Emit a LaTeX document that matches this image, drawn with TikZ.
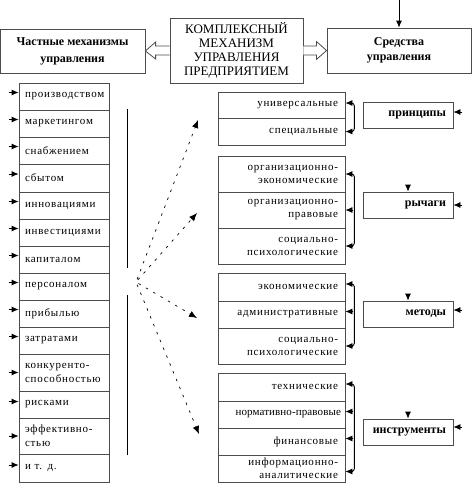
\documentclass[tikz,border=0pt]{standalone}
\usepackage{fontspec}
\setmainfont{Liberation Serif}
\newfontfamily\listfam{Liberation Serif}[LetterSpace=7]
\newfontfamily\listtight{Liberation Serif}[LetterSpace=1]
\usetikzlibrary{arrows.meta}
\begin{document}
\begin{tikzpicture}[x=1pt,y=-1pt,
  frame/.style={draw=black!70, line width=0.8pt, inner ysep=0pt},
  lrow/.style={frame, minimum width=90pt, inner xsep=6pt, text width=78pt, align=left, font=\listfam\fontsize{11}{14}\selectfont},
  rrow/.style={frame, minimum width=127pt, inner xsep=7pt, text width=113pt, align=right, font=\listfam\fontsize{11}{13}\selectfont},
  obox/.style={frame, minimum width=90pt, minimum height=26pt, inner xsep=7pt, text width=76pt, align=right, font=\bfseries\fontsize{12}{14}\selectfont},
  tip/.style={line width=0.8pt, -{Latex[length=7pt,width=6pt]}},
  brk/.style={line width=0.9pt, rounded corners=3pt},
  dotarrow/.style={line width=0.7pt, dash pattern=on 2.5pt off 6pt, -{Latex[length=8pt,width=6.5pt]}},
  blockarrow/.style={draw=black!70, line width=0.8pt, fill=white}
]
\useasboundingbox[fill=white] (0,0) rectangle (474,493);

% header boxes
\node[frame, minimum width=133pt, minimum height=65pt, align=center, font=\fontsize{13}{14}\selectfont] (cb) at (236.5,50.5) {КОМПЛЕКСНЫЙ\\МЕХАНИЗМ\\УПРАВЛЕНИЯ\\ПРЕДПРИЯТИЕМ};
\node[frame, minimum width=145pt, minimum height=44pt, align=center, font=\bfseries\fontsize{12}{17}\selectfont] (pm) at (72.5,51) {Частные механизмы\\управления};
\node[frame, minimum width=144pt, minimum height=45pt, align=center, font=\bfseries\fontsize{12}{15}\selectfont] (sr) at (399,50.5) {Средства\\управления};

% block arrows
\draw[blockarrow] ([yshift=4.5pt]cb.west) -- ([yshift=4.5pt,xshift=-14pt]cb.west) -- ([yshift=8.5pt,xshift=-14pt]cb.west) -- (pm.east) -- ([yshift=-8.5pt,xshift=-14pt]cb.west) -- ([yshift=-4.5pt,xshift=-14pt]cb.west) -- ([yshift=-4.5pt]cb.west);
\draw[blockarrow] ([yshift=4.5pt]cb.east) -- ([yshift=4.5pt,xshift=13pt]cb.east) -- ([yshift=9pt,xshift=13pt]cb.east) -- (sr.west) -- ([yshift=-9pt,xshift=13pt]cb.east) -- ([yshift=-4.5pt,xshift=13pt]cb.east) -- ([yshift=-4.5pt]cb.east);

\coordinate (topin) at (399,0);
\draw[line width=0.8pt, -{Latex[length=7pt,width=6pt]}] (topin) -- (sr.north);

% left list
\node[lrow, minimum height=27pt] (r1) at (64,96.5) {производством};
\node[lrow, minimum height=27pt] (r2) at (64,123.5) {маркетингом};
\node[lrow, minimum height=27pt] (r3) at (64,150.5) {снабжением};
\node[lrow, minimum height=28pt] (r4) at (64,178) {сбытом};
\node[lrow, minimum height=27pt] (r5) at (64,205.5) {инновациями};
\node[lrow, minimum height=27pt] (r6) at (64,232.5) {инвестициями};
\node[lrow, minimum height=27pt] (r7) at (64,259.5) {капиталом};
\node[lrow, minimum height=27pt] (r8) at (64,286.5) {персоналом};
\node[lrow, minimum height=27pt] (r9) at (64,313.5) {прибылью};
\node[lrow, minimum height=27pt] (r10) at (64,340.5) {затратами};
\node[lrow, minimum height=37pt] (r11) at (64,372.5) {конкуренто-\\способностью};
\node[lrow, minimum height=27pt] (r12) at (64,404.5) {рисками};
\node[lrow, minimum height=36pt] (r13) at (64,436) {эффективно-\\стью};
\node[lrow, minimum height=28pt] (r14) at (64,468) {и т. д.};

\foreach \n/\s in {r1/4,r2/4,r3/4,r4/4,r5/4,r6/4,r7/4,r8/4,r9/4,r10/4,r11/0,r12/3,r13/0,r14/3}
  \draw[tip] ([xshift=-10pt,yshift=\s pt]\n.west) -- ([yshift=\s pt]\n.west);

% vertical line and dotted fan
\coordinate (vl1) at (127,109);
\coordinate (vl2) at (127,268);
\coordinate (vl3) at (127,295);
\coordinate (vl4) at (127,455);
\draw[line width=0.9pt] (vl1) -- (vl2);
\draw[line width=0.9pt] (vl3) -- (vl4);

\coordinate (hub) at (136,282);
\coordinate (ta) at (198,120);
\coordinate (tb) at (197,213);
\coordinate (tc) at (197,318);
\coordinate (td) at (199,434);
\foreach \t in {ta,tb,tc,td}
  \draw[dotarrow, shorten <=3pt] (hub) -- (\t);

% right groups
\node[rrow, minimum height=26pt] (u1) at (281.5,105) {универсальные};
\node[rrow, minimum height=27pt] (u2) at (281.5,131.5) {специальные};

\node[rrow, minimum height=36pt] (o1) at (281.5,174) {организационно-\\экономические};
\node[rrow, minimum height=36pt] (o2) at (281.5,210) {организационно-\\правовые};
\node[rrow, minimum height=36pt] (o3) at (281.5,246) {социально-\\психологические};

\node[rrow, minimum height=28pt] (m1) at (281.5,287) {экономические};
\node[rrow, minimum height=27pt] (m2) at (281.5,314.5) {административные};
\node[rrow, minimum height=36pt] (m3) at (281.5,346) {социально-\\психологические};

\node[rrow, minimum height=28pt] (t1) at (281.5,387) {технические};
\node[rrow, minimum height=27pt, inner xsep=4pt, text width=119pt, font=\listtight\fontsize{11}{13}\selectfont] (t2) at (281.5,414.5) {\mbox{нормативно-правовые}\hspace*{3pt}};
\node[rrow, minimum height=27pt] (t3) at (281.5,441.5) {финансовые};
\node[rrow, minimum height=27pt] (t4) at (281.5,468.5) {информационно-\\аналитические};

% brackets
\draw[brk] ([xshift=4pt,yshift=2pt]u1.east) -- ([xshift=9pt,yshift=2pt]u1.east) -- ([xshift=9pt]u2.east) -- ([xshift=4pt]u2.east);
\draw[brk] ([xshift=4pt]o1.east) -- ([xshift=9pt]o1.east) -- ([xshift=9pt]o3.east) -- ([xshift=4pt]o3.east);
\draw[brk] ([xshift=4pt,yshift=3pt]m1.east) -- ([xshift=9pt,yshift=3pt]m1.east) -- ([xshift=9pt]m3.east) -- ([xshift=4pt]m3.east);
\draw[brk] ([xshift=4pt,yshift=3pt]t1.east) -- ([xshift=9pt,yshift=3pt]t1.east) -- ([xshift=9pt,yshift=-3pt]t4.east) -- ([xshift=4pt,yshift=-3pt]t4.east);

\foreach \n/\s in {u1/2,u2/0,o1/0,o2/0,o3/0,m1/3,m2/3,m3/0,t1/3,t2/3,t3/3,t4/-3}
  \draw[tip] ([xshift=8pt,yshift=\s pt]\n.east) -- ([yshift=\s pt]\n.east);

% outcome boxes
\node[obox] (pr) at (408,115) {принципы};
\node[obox] (ry) at (408,205) {рычаги};
\node[obox] (me) at (408,314) {методы};
\node[obox] (in) at (408,432) {инструменты};

\draw[tip] ([xshift=9pt,yshift=3pt]pr.east) -- ([yshift=3pt]pr.east);
\draw[tip] ([xshift=9pt]ry.east) -- (ry.east);
\draw[tip] ([xshift=9pt,yshift=4pt]me.east) -- ([yshift=4pt]me.east);
\draw[tip] ([xshift=9pt,yshift=5pt]in.east) -- ([yshift=5pt]in.east);

\foreach \n in {ry,me,in}
  \draw[tip] ([yshift=7pt]\n.north) -- (\n.north);
\end{tikzpicture}
\end{document}
